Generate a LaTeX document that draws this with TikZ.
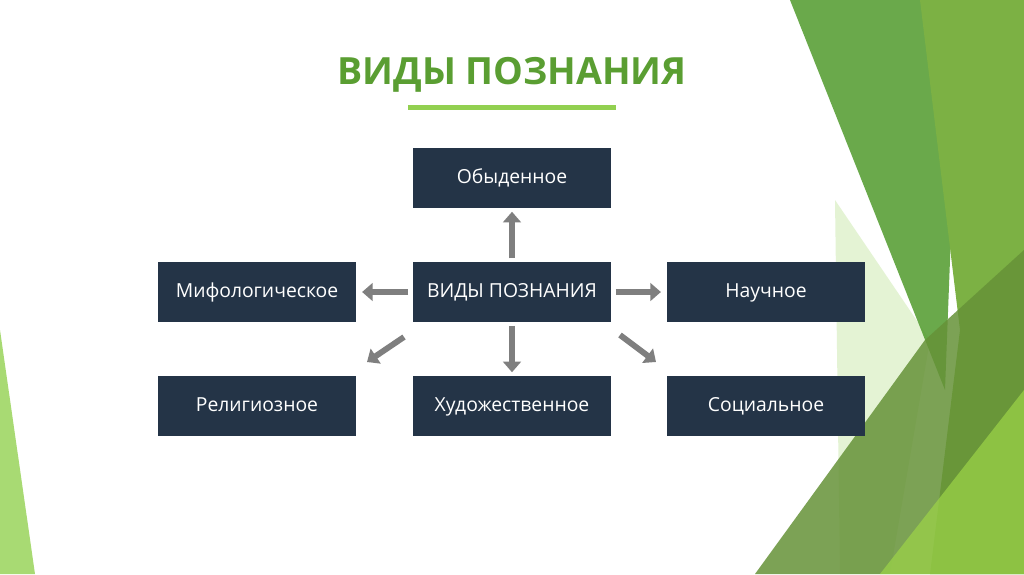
\documentclass[tikz,border=0pt]{standalone}
\usepackage{fontspec}
\setmainfont{Open Sans}
\usetikzlibrary{arrows.meta}
\definecolor{boxblue}{HTML}{243447}
\definecolor{titlegreen}{HTML}{5A9E32}
\definecolor{bargreen}{HTML}{92D050}
\definecolor{arrowgray}{HTML}{7F7F7F}
\tikzset{
  kindbox/.style={fill=boxblue, text=white, minimum width=5.94cm, minimum height=1.8cm, inner sep=0pt, text height=12pt, text depth=3pt, font=\fontsize{16.5}{19}\selectfont},
  bigarrow/.style={draw=arrowgray, line width=5pt, -{Triangle[length=9pt,width=15pt]}}
}
\begin{document}
\begin{tikzpicture}[x=0.03cm,y=-0.03cm]
\useasboundingbox (0,0) rectangle (1024,574);
% background shapes
\fill[white] (0,0) rectangle (1024,574);
\fill[bargreen!80!white] (0,330) -- (35,574) -- (0,574) -- cycle;
\fill[bargreen!30!white, opacity=0.8] (835,200) -- (930,340) -- (890,574) -- (840,574) -- cycle;
\fill[green!35!black!45!bargreen, opacity=0.85] (790,0) -- (960,0) -- (945,390) -- cycle;
\fill[bargreen!85!black] (920,0) -- (1024,0) -- (1024,574) -- (930,574) -- (960,330) -- cycle;
\fill[bargreen!70!black, opacity=0.85] (755,574) -- (925,340) -- (1024,250) -- (1024,574) -- cycle;
\fill[bargreen!90!yellow, opacity=0.7] (880,574) -- (1024,390) -- (1024,574) -- cycle;
% title
\node[text=titlegreen, font=\fontsize{32}{38}\selectfont\bfseries] (title) at (512,75) {ВИДЫ ПОЗНАНИЯ};
\fill[bargreen] (408,105) rectangle (616,110);
% boxes
\node[kindbox] (center) at (512,292) {ВИДЫ ПОЗНАНИЯ};
\node[kindbox] (everyday) at (512,178) {Обыденное};
\node[kindbox] (myth) at (257,292) {Мифологическое};
\node[kindbox] (science) at (766,292) {Научное};
\node[kindbox] (religion) at (257,406) {Религиозное};
\node[kindbox] (art) at (512,406) {Художественное};
\node[kindbox] (social) at (766,406) {Социальное};
% arrows
\draw[bigarrow] ([yshift=3]center.north) -- ([yshift=-3]everyday.south);
\draw[bigarrow] ([xshift=-4]center.west) -- ([xshift=5]myth.east);
\draw[bigarrow] ([xshift=4]center.east) -- ([xshift=-5]science.west);
\draw[bigarrow] ([yshift=-3]center.south) -- ([yshift=3]art.north);
\coordinate (dl) at (367,362);
\coordinate (dr) at (656,362);
\draw[bigarrow] (404,337) -- (dl);
\draw[bigarrow] (620,335) -- (dr);
\end{tikzpicture}
\end{document}
